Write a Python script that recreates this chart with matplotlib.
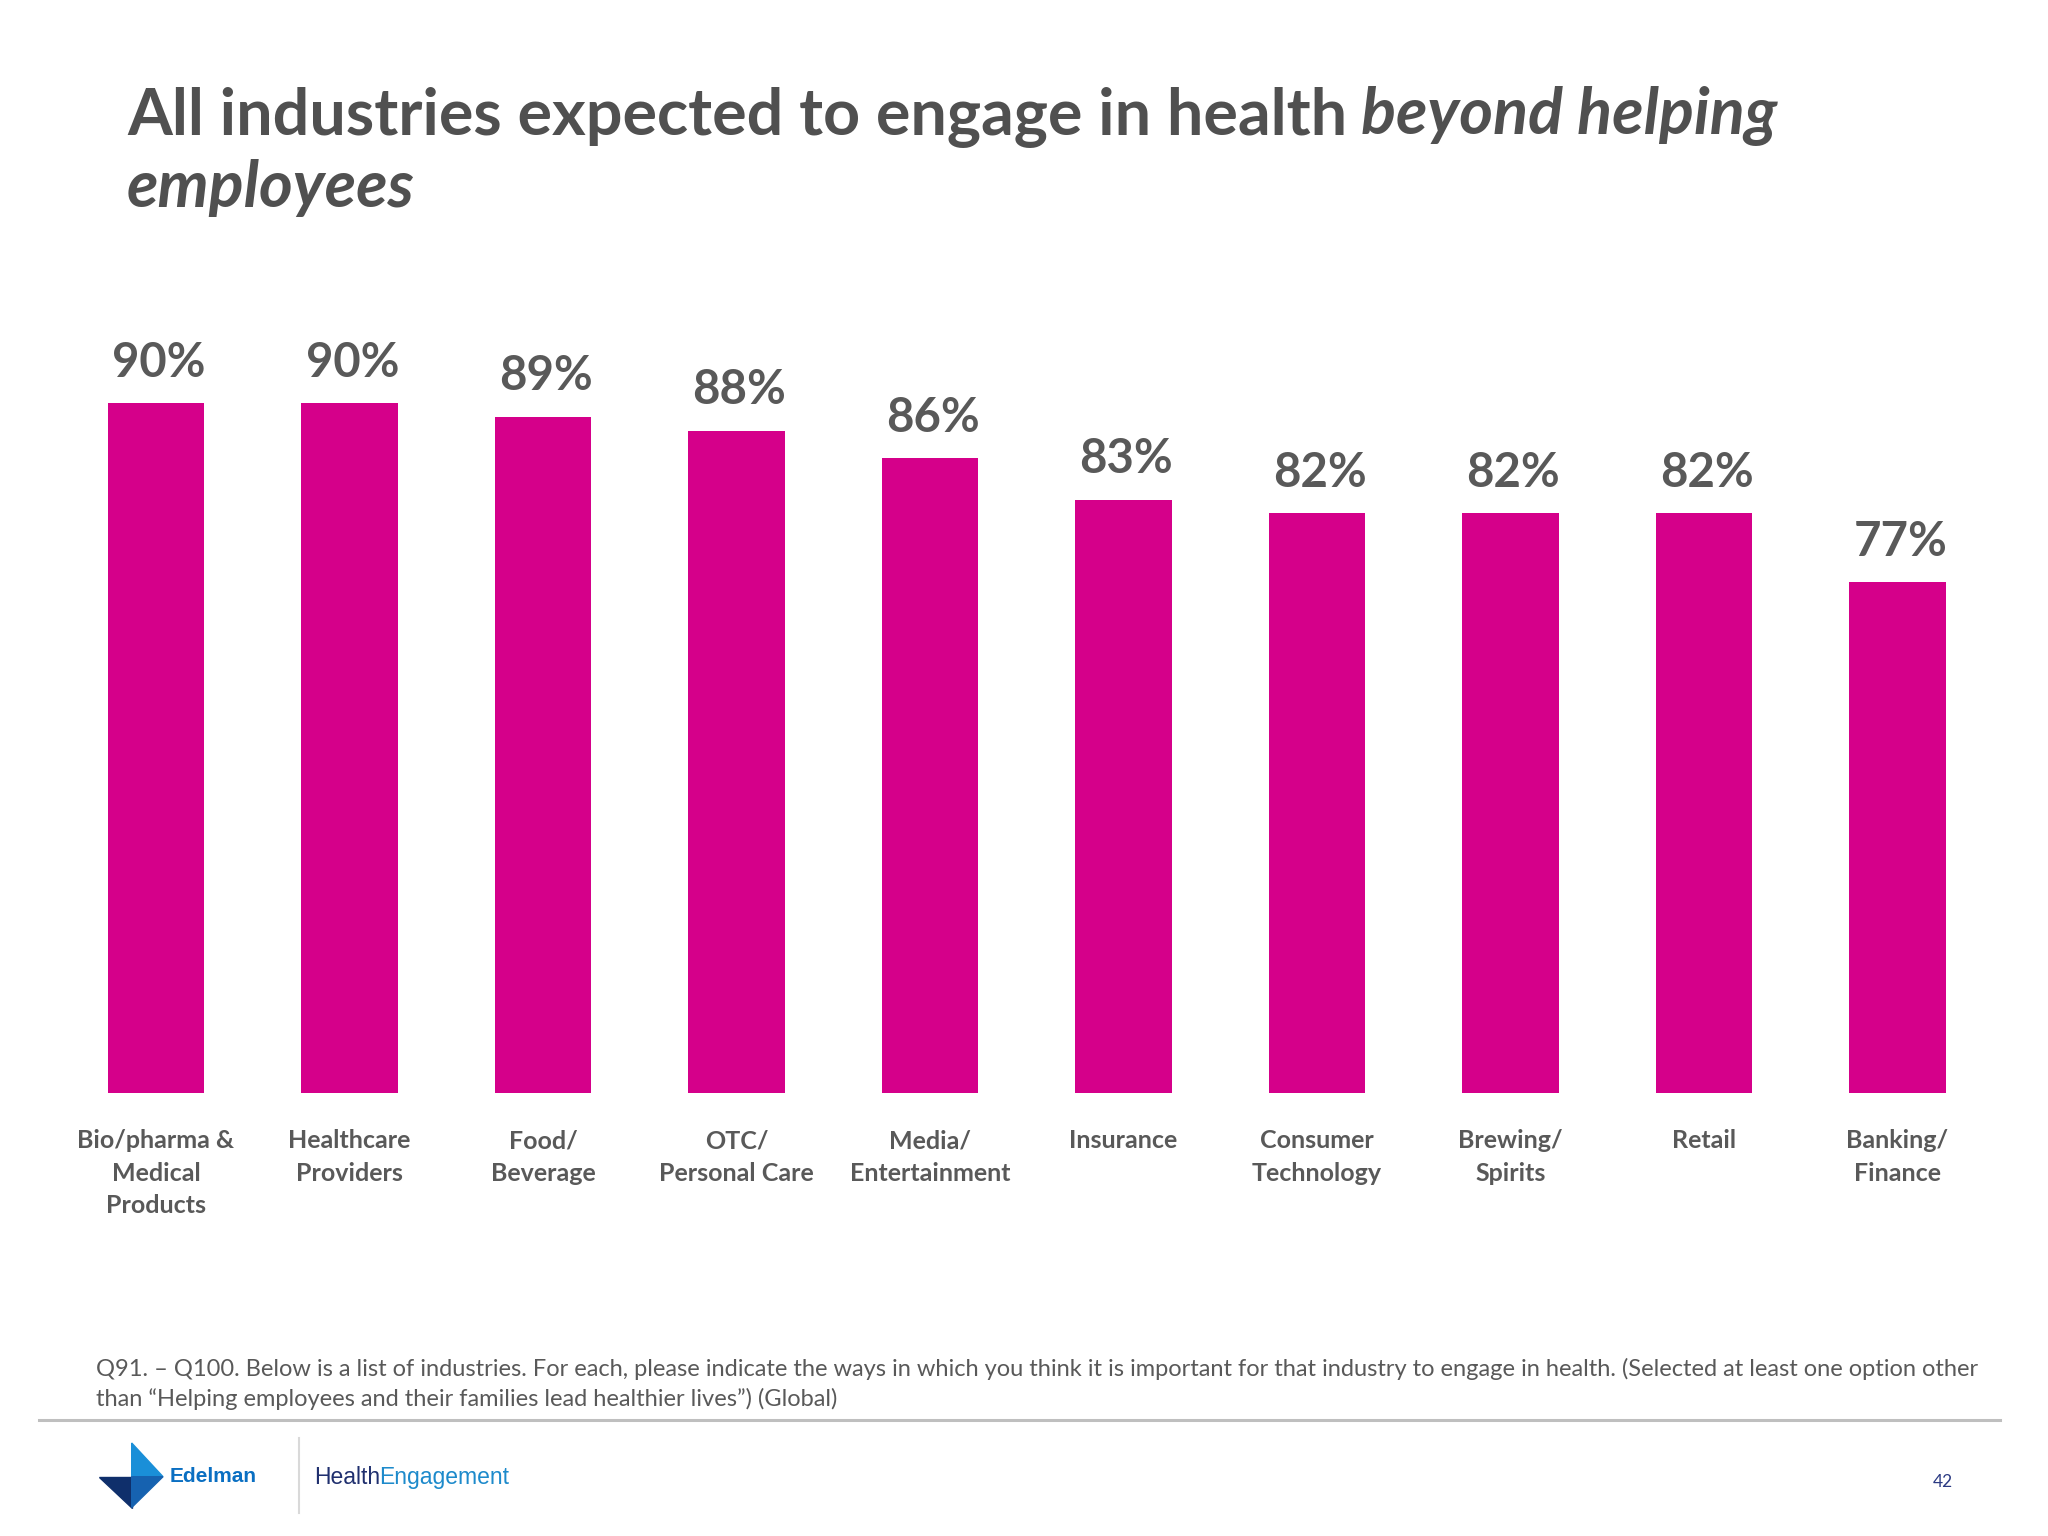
import matplotlib
matplotlib.use("Agg")
import matplotlib.pyplot as plt
from matplotlib.patches import Polygon
from matplotlib.lines import Line2D

# ---- data ----
categories = ["Bio/pharma &\nMedical\nProducts", "Healthcare\nProviders", "Food/\nBeverage",
              "OTC/\nPersonal Care", "Media/\nEntertainment", "Insurance",
              "Consumer\nTechnology", "Brewing/\nSpirits", "Retail", "Banking/\nFinance"]
values = [90, 90, 89, 88, 86, 83, 82, 82, 82, 77]
value_labels = ["90%", "90%", "89%", "88%", "86%", "83%", "82%", "82%", "82%", "77%"]

title_regular = "All industries expected to engage in health"
title_italic_1 = " beyond helping"
title_italic_2 = "employees"
footnote_lines = [
    "Q91. \u2013 Q100. Below is a list of industries. For each, please indicate the ways in which you think it is important for that industry to engage in health. (Selected at least one option other",
    "than \u201cHelping employees and their families lead healthier lives\u201d) (Global)",
]

W, H = 2048, 1536
BAR = "#D5008A"
GRAY = "#595959"
TITLE_GRAY = "#505050"
FONT = "Lato"

fig = plt.figure(figsize=(W / 100, H / 100), dpi=100)
fig.patch.set_facecolor("white")


def fx(x):
    return x / W


def fy(y):
    return 1 - y / H


# ---- axes ----
ax = fig.add_axes([fx(59.25), fy(1093), 1935 / W, 828 / H])
xs = list(range(len(values)))
bars = ax.bar(xs, values, width=0.5, color=BAR, zorder=2)
ax.set_xlim(-0.5, len(values) - 0.5)
ax.set_ylim(40, 100)
for s in ax.spines.values():
    s.set_visible(False)
ax.set_yticks([])
ax.set_xticks(xs)
ax.set_xticklabels(categories, fontsize=18, fontweight="bold", color=GRAY,
                   family=FONT, linespacing=1.5)
ax.tick_params(axis="x", length=0, pad=26)

for x, v, lab in zip(xs, values, value_labels):
    ax.annotate(lab, xy=(x, v), xytext=(2, 19), textcoords="offset points",
                ha="center", va="baseline", fontsize=34, fontweight="bold",
                color=GRAY, family=FONT)

# ---- title ----
t1 = fig.text(fx(127), fy(134.5), title_regular, fontsize=46.5, fontweight="bold",
              color=TITLE_GRAY, family=FONT, va="baseline", ha="left")
renderer = fig.canvas.get_renderer()
bb = t1.get_window_extent(renderer)
fig.text(bb.x1 / W, fy(134.5), title_italic_1, fontsize=46.5, fontweight="bold",
         fontstyle="italic", color=TITLE_GRAY, family=FONT, va="baseline", ha="left")
fig.text(fx(127), fy(207), title_italic_2, fontsize=46.5, fontweight="bold",
         fontstyle="italic", color=TITLE_GRAY, family=FONT, va="baseline", ha="left")

# ---- footnote ----
for i, line in enumerate(footnote_lines):
    fig.text(fx(96), fy(1376 + 30 * i), line, fontsize=17.0, color=GRAY, family=FONT,
             va="baseline", ha="left")

# separator line
fig.add_artist(Line2D([fx(39), fx(2000)], [fy(1420), fy(1420)], color="#BFBFBF",
                      linewidth=2.2, transform=fig.transFigure))

# ---- logo ----
top = (fx(131.7), fy(1443))
right = (fx(163), fy(1476.7))
bottom = (fx(131.7), fy(1507.5))
left = (fx(99), fy(1476.7))
center = (fx(131.7), fy(1476.7))
fig.add_artist(Polygon([top, right, center], closed=True, color="#1A8FD8",
                       transform=fig.transFigure))
fig.add_artist(Polygon([left, center, bottom], closed=True, color="#0F2F6B",
                       transform=fig.transFigure))
fig.add_artist(Polygon([center, right, bottom], closed=True, color="#1662B0",
                       transform=fig.transFigure))
fig.text(fx(170), fy(1477), "Edelman", fontsize=15, fontweight="bold", color="#0A6FC2",
         family="Liberation Sans", va="center", ha="left")
fig.add_artist(Line2D([fx(299), fx(299)], [fy(1438), fy(1513)], color="#D9D9D9",
                      linewidth=1.5, transform=fig.transFigure))
h1 = fig.text(fx(314), fy(1484), "Health", fontsize=16.5, color="#1F2F6E",
              family="Liberation Sans", va="baseline", ha="left")
bbh = h1.get_window_extent(renderer)
fig.text((bbh.x1 - 1) / W, fy(1484), "Engagement", fontsize=16.5, color="#1D8ACB",
         family="Liberation Sans", va="baseline", ha="left")
fig.text(fx(1933), fy(1487), "42", fontsize=12.5, color="#2B3A83", family=FONT,
         va="baseline", ha="left")

fig.savefig("out.png", dpi=100, facecolor="white")
